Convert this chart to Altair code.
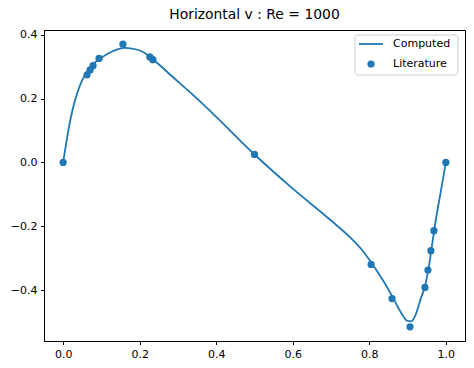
import altair as alt
import pandas as pd

# Literature (Ghia et al.) v-velocity along horizontal centreline, Re = 1000
lit_x = [1.0000, 0.9688, 0.9609, 0.9531, 0.9453, 0.9063, 0.8594, 0.8047,
         0.5000, 0.2344, 0.2266, 0.1563, 0.0938, 0.0781, 0.0703, 0.0625, 0.0000]
lit_v = [0.00000, -0.21388, -0.27669, -0.33714, -0.39188, -0.51550, -0.42665,
         -0.31966, 0.02526, 0.32235, 0.33075, 0.37095, 0.32627, 0.30353,
         0.29012, 0.27485, 0.00000]

# Computed curve
comp_x = [0.0, 0.01, 0.02, 0.03, 0.045, 0.06, 0.08, 0.1, 0.12, 0.14, 0.16,
          0.18, 0.2, 0.22, 0.24, 0.28, 0.35, 0.4, 0.5, 0.6, 0.7, 0.75, 0.78,
          0.8, 0.82, 0.84, 0.86, 0.88, 0.9, 0.91, 0.92, 0.935, 0.945, 0.955,
          0.965, 0.975, 0.985, 1.0]
comp_v = [0.0, 0.075, 0.14, 0.19, 0.245, 0.28, 0.31, 0.328, 0.343, 0.354,
          0.359, 0.357, 0.351, 0.338, 0.318, 0.275, 0.2, 0.143, 0.025, -0.082,
          -0.182, -0.235, -0.273, -0.305, -0.34, -0.378, -0.42, -0.465,
          -0.497, -0.498, -0.48, -0.425, -0.39, -0.33, -0.25, -0.171, -0.103,
          0.0]

legend_labels = ["Computed", "Literature"]
x_ticks = [0.0, 0.2, 0.4, 0.6, 0.8, 1.0]
y_ticks = [-0.4, -0.2, 0.0, 0.2, 0.4]

BLUE = "#1f77b4"
FONT = "DejaVu Sans"

comp = pd.DataFrame({"x": comp_x, "v": comp_v})
lit = pd.DataFrame({"x": lit_x, "v": lit_v})
dummy = pd.DataFrame({"a": [0]})

xs = alt.Scale(domain=[-0.05, 1.05], nice=False, zero=False)
ys = alt.Scale(domain=[-0.5598, 0.4153], nice=False, zero=False)
lab = "replace(format(datum.value, '.1f'), '-', '\u2212')"

xaxis = alt.Axis(values=x_ticks, labelExpr=lab, title=None, grid=False)
yaxis = alt.Axis(values=y_ticks, labelExpr=lab, title=None, grid=False)

line = alt.Chart(comp).mark_line(color=BLUE, strokeWidth=1.8, interpolate="monotone").encode(
    x=alt.X("x:Q", scale=xs, axis=xaxis),
    y=alt.Y("v:Q", scale=ys, axis=yaxis),
)
pts = alt.Chart(lit).mark_point(filled=True, size=52, color=BLUE, opacity=1).encode(
    x=alt.X("x:Q", scale=xs),
    y=alt.Y("v:Q", scale=ys),
)

box = alt.Chart(dummy).mark_rect(fill="white", stroke="#cccccc", strokeWidth=1, cornerRadius=3).encode(
    x=alt.value(311), x2=alt.value(414), y=alt.value(5), y2=alt.value(45))
leg_line = alt.Chart(dummy).mark_rule(color=BLUE, strokeWidth=1.8).encode(
    x=alt.value(315), x2=alt.value(339), y=alt.value(14))
leg_pt = alt.Chart(dummy).mark_point(filled=True, size=52, color=BLUE, opacity=1).encode(
    x=alt.value(327), y=alt.value(34))
leg_t1 = alt.Chart(dummy).mark_text(text=legend_labels[0], align="left", baseline="middle",
                                    font=FONT, fontSize=11, color="black").encode(
    x=alt.value(349), y=alt.value(14))
leg_t2 = alt.Chart(dummy).mark_text(text=legend_labels[1], align="left", baseline="middle",
                                    font=FONT, fontSize=11, color="black").encode(
    x=alt.value(349), y=alt.value(34))

chart = alt.layer(line, pts, box, leg_line, leg_pt, leg_t1, leg_t2).properties(
    width=421, height=311,
    title=alt.TitleParams("Horizontal v : Re = 1000", font=FONT, fontSize=13.9,
                          fontWeight="normal", color="black", anchor="middle", offset=7),
    padding={"left": 36, "top": 22, "right": 1, "bottom": 19},
    autosize=alt.AutoSizeParams(type="none"),
).configure_view(stroke="black", strokeWidth=1).configure_axis(
    labelFont=FONT, labelFontSize=11, labelColor="black", tickColor="black",
    tickSize=3.5, domainColor="black", labelPadding=3.5,
)

chart.save("out.html", embed_options={"renderer": "svg", "actions": False})
